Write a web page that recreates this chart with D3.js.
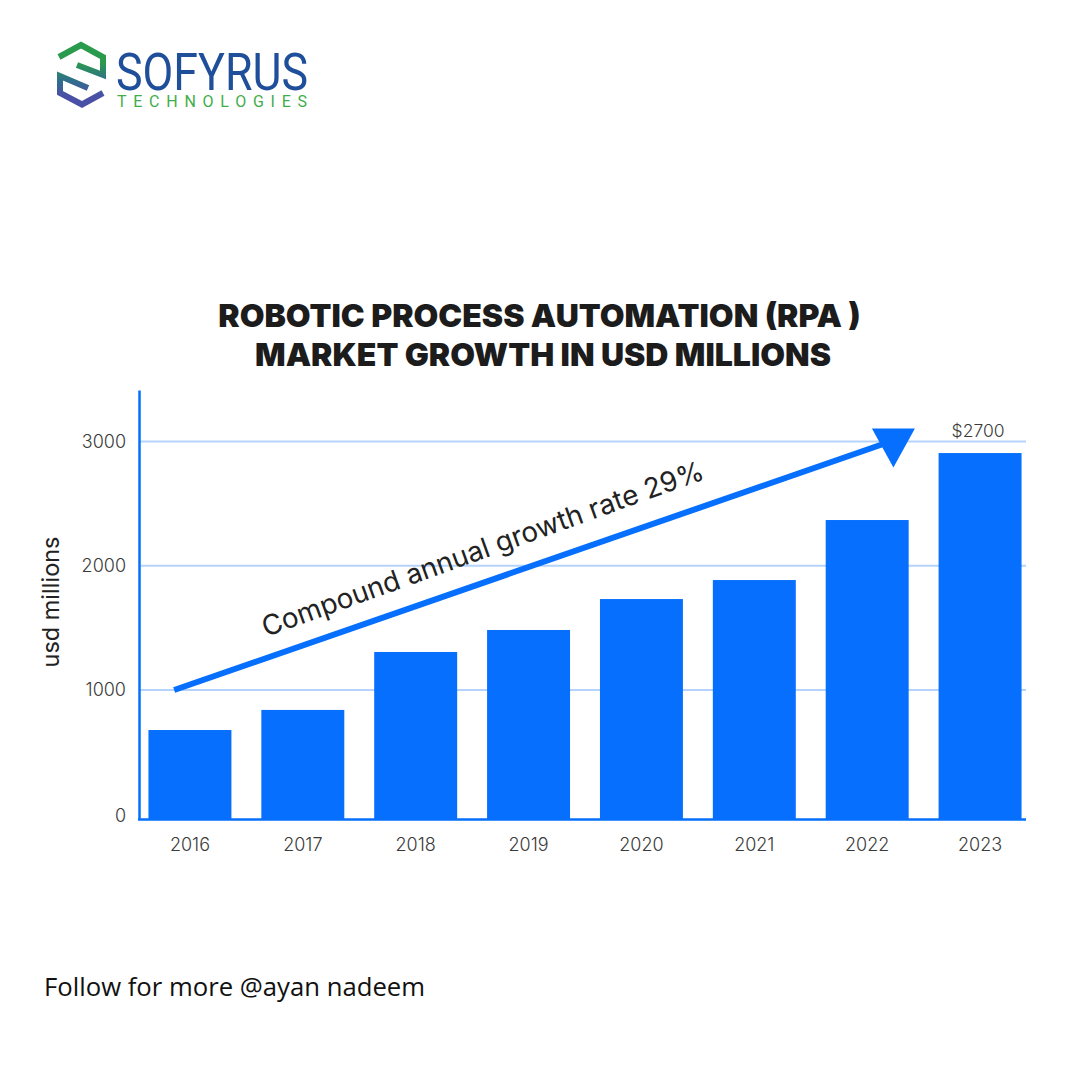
<!DOCTYPE html>
<html>
<head>
<meta charset="utf-8">
<script src="https://cdn.jsdelivr.net/npm/d3@7"></script>
<style>
  html, body { margin: 0; padding: 0; background: #fff; }
  text { font-family: "Inter", sans-serif; }
</style>
</head>
<body>
<div id="chart"></div>
<script>
(function() {
  var years = ["2016","2017","2018","2019","2020","2021","2022","2023"];
  var values = [691, 846, 1306, 1483, 1732, 1885, 2368, 2907];
  var yTicks = [0, 1000, 2000, 3000];
  var arrowValues = [1000, 3000];
  var titleLines = ["ROBOTIC PROCESS AUTOMATION (RPA )", "MARKET GROWTH IN USD MILLIONS"];

  var svg = d3.select("#chart")
    .append("svg")
    .attr("width", 1080)
    .attr("height", 1080);

  var blue = "#066ffd", grid = "#b5d3fd", ink = "#3a3a3a";

  var x = d3.scaleBand().domain(years).range([133.5, 1036.5]).paddingInner(0.265).paddingOuter(0.1325);
  // the first step of the axis is a little taller than the others in the picture
  var y = d3.scaleLinear().domain([0, 1000, 3000, 3400]).range([819.5, 690, 441.5, 390]);

  // gridlines
  svg.append("g").selectAll("line")
    .data(yTicks.slice(1))
    .enter().append("line")
    .attr("x1", 139).attr("x2", 1026)
    .attr("y1", function(d) { return y(d); })
    .attr("y2", function(d) { return y(d); })
    .attr("stroke", grid).attr("stroke-width", 2);

  // bars
  svg.append("g").selectAll("rect")
    .data(values)
    .enter().append("rect")
    .attr("x", function(d, i) { return x(years[i]); })
    .attr("width", x.bandwidth())
    .attr("y", function(d) { return y(d); })
    .attr("height", function(d) { return y(0) - y(d); })
    .attr("fill", blue);

  // axes
  var yAxis = d3.axisLeft(y).tickValues(yTicks).tickSize(0).tickPadding(13).tickFormat(d3.format("d"));
  var yG = svg.append("g").attr("transform", "translate(139,0)").call(yAxis);
  yG.select(".domain").attr("stroke", blue).attr("stroke-width", 2.5);
  yG.selectAll(".tick text").filter(function(d) { return d === 0; }).attr("dy", "0.1em");

  var xAxis = d3.axisBottom(x).tickSize(0).tickPadding(19);
  var xG = svg.append("g").attr("transform", "translate(0," + y(0) + ")").call(xAxis);
  xG.select(".domain").attr("stroke", blue).attr("stroke-width", 2.5).attr("d", "M138,0H1026");

  svg.selectAll(".tick text")
    .attr("fill", ink)
    .style("font-family", "Inter, sans-serif")
    .style("font-size", "18px")
    .style("font-weight", 300);

  // growth arrow
  var ax0 = x("2016") + x.bandwidth() * 0.31, ax1 = x("2022") + x.bandwidth() * 0.78;
  svg.append("line")
    .attr("x1", ax0).attr("y1", y(arrowValues[0]))
    .attr("x2", ax1).attr("y2", y(arrowValues[1]))
    .attr("stroke", blue).attr("stroke-width", 6);
  svg.append("path")
    .attr("d", d3.symbol().type(d3.symbolTriangle).size(800)())
    .attr("transform", "translate(" + (ax1 + 3) + "," + y(arrowValues[1]) + ") rotate(180) scale(1,1.05)")
    .attr("fill", blue);

  svg.append("text")
    .attr("transform", "translate(266,637) rotate(-19.8)")
    .attr("font-size", 27.8).attr("font-weight", 400).attr("fill", "#222")
    .text("Compound annual growth rate 29%");

  svg.append("text")
    .attr("x", x("2023") + x.bandwidth() / 2 - 2).attr("y", y(3000) - 5)
    .attr("text-anchor", "middle")
    .attr("font-size", 17.5).attr("font-weight", 300).attr("fill", ink)
    .text("$2700");

  svg.append("text")
    .attr("transform", "translate(59,602) rotate(-90)")
    .attr("text-anchor", "middle")
    .attr("font-size", 23.5).attr("fill", "#222")
    .text("usd millions");

  // title
  svg.append("g").selectAll("text")
    .data(titleLines)
    .enter().append("text")
    .attr("x", function(d, i) { return i ? 543 : 539.5; })
    .attr("y", function(d, i) { return 327 + i * 39; })
    .attr("text-anchor", "middle")
    .attr("font-size", 32).attr("font-weight", 900).attr("fill", "#1c1c1c")
    .text(function(d) { return d; });

  svg.append("text")
    .attr("x", 44).attr("y", 996)
    .attr("font-size", 25.7).attr("fill", "#111")
    .style("font-family", "Open Sans, sans-serif")
    .text("Follow for more @ayan nadeem");

  // logo
  var grad = svg.append("defs").append("linearGradient")
    .attr("id", "logo-grad")
    .attr("gradientUnits", "userSpaceOnUse")
    .attr("x1", 0).attr("x2", 0).attr("y1", 44).attr("y2", 105);
  grad.append("stop").attr("offset", "0.3").attr("stop-color", "#2a9a4c");
  grad.append("stop").attr("offset", "0.6").attr("stop-color", "#2f6f8c");
  grad.append("stop").attr("offset", "0.85").attr("stop-color", "#4a50a6");

  var logo = svg.append("g");
  logo.append("path")
    .attr("d", "M59,57 L81,45 L103,57 L103,75 L77,65")
    .attr("fill", "none").attr("stroke", "url(#logo-grad)").attr("stroke-width", 6);
  logo.append("path")
    .attr("d", "M88,88 L60,76 L60,93 L82,104.5 L103,93")
    .attr("fill", "none").attr("stroke", "url(#logo-grad)").attr("stroke-width", 6);
  logo.append("text")
    .attr("x", 116).attr("y", 90)
    .attr("textLength", 192).attr("lengthAdjust", "spacingAndGlyphs")
    .attr("font-size", 52).attr("font-weight", 400).attr("fill", "#1f4e9a")
    .style("font-family", "Roboto, sans-serif")
    .text("SOFYRUS");
  logo.append("text")
    .attr("x", 117).attr("y", 107)
    .attr("textLength", 190)
    .attr("font-size", 16).attr("font-weight", 400).attr("fill", "#3fae49")
    .style("font-family", "Roboto, sans-serif")
    .text("TECHNOLOGIES");
})();
</script>
</body>
</html>
